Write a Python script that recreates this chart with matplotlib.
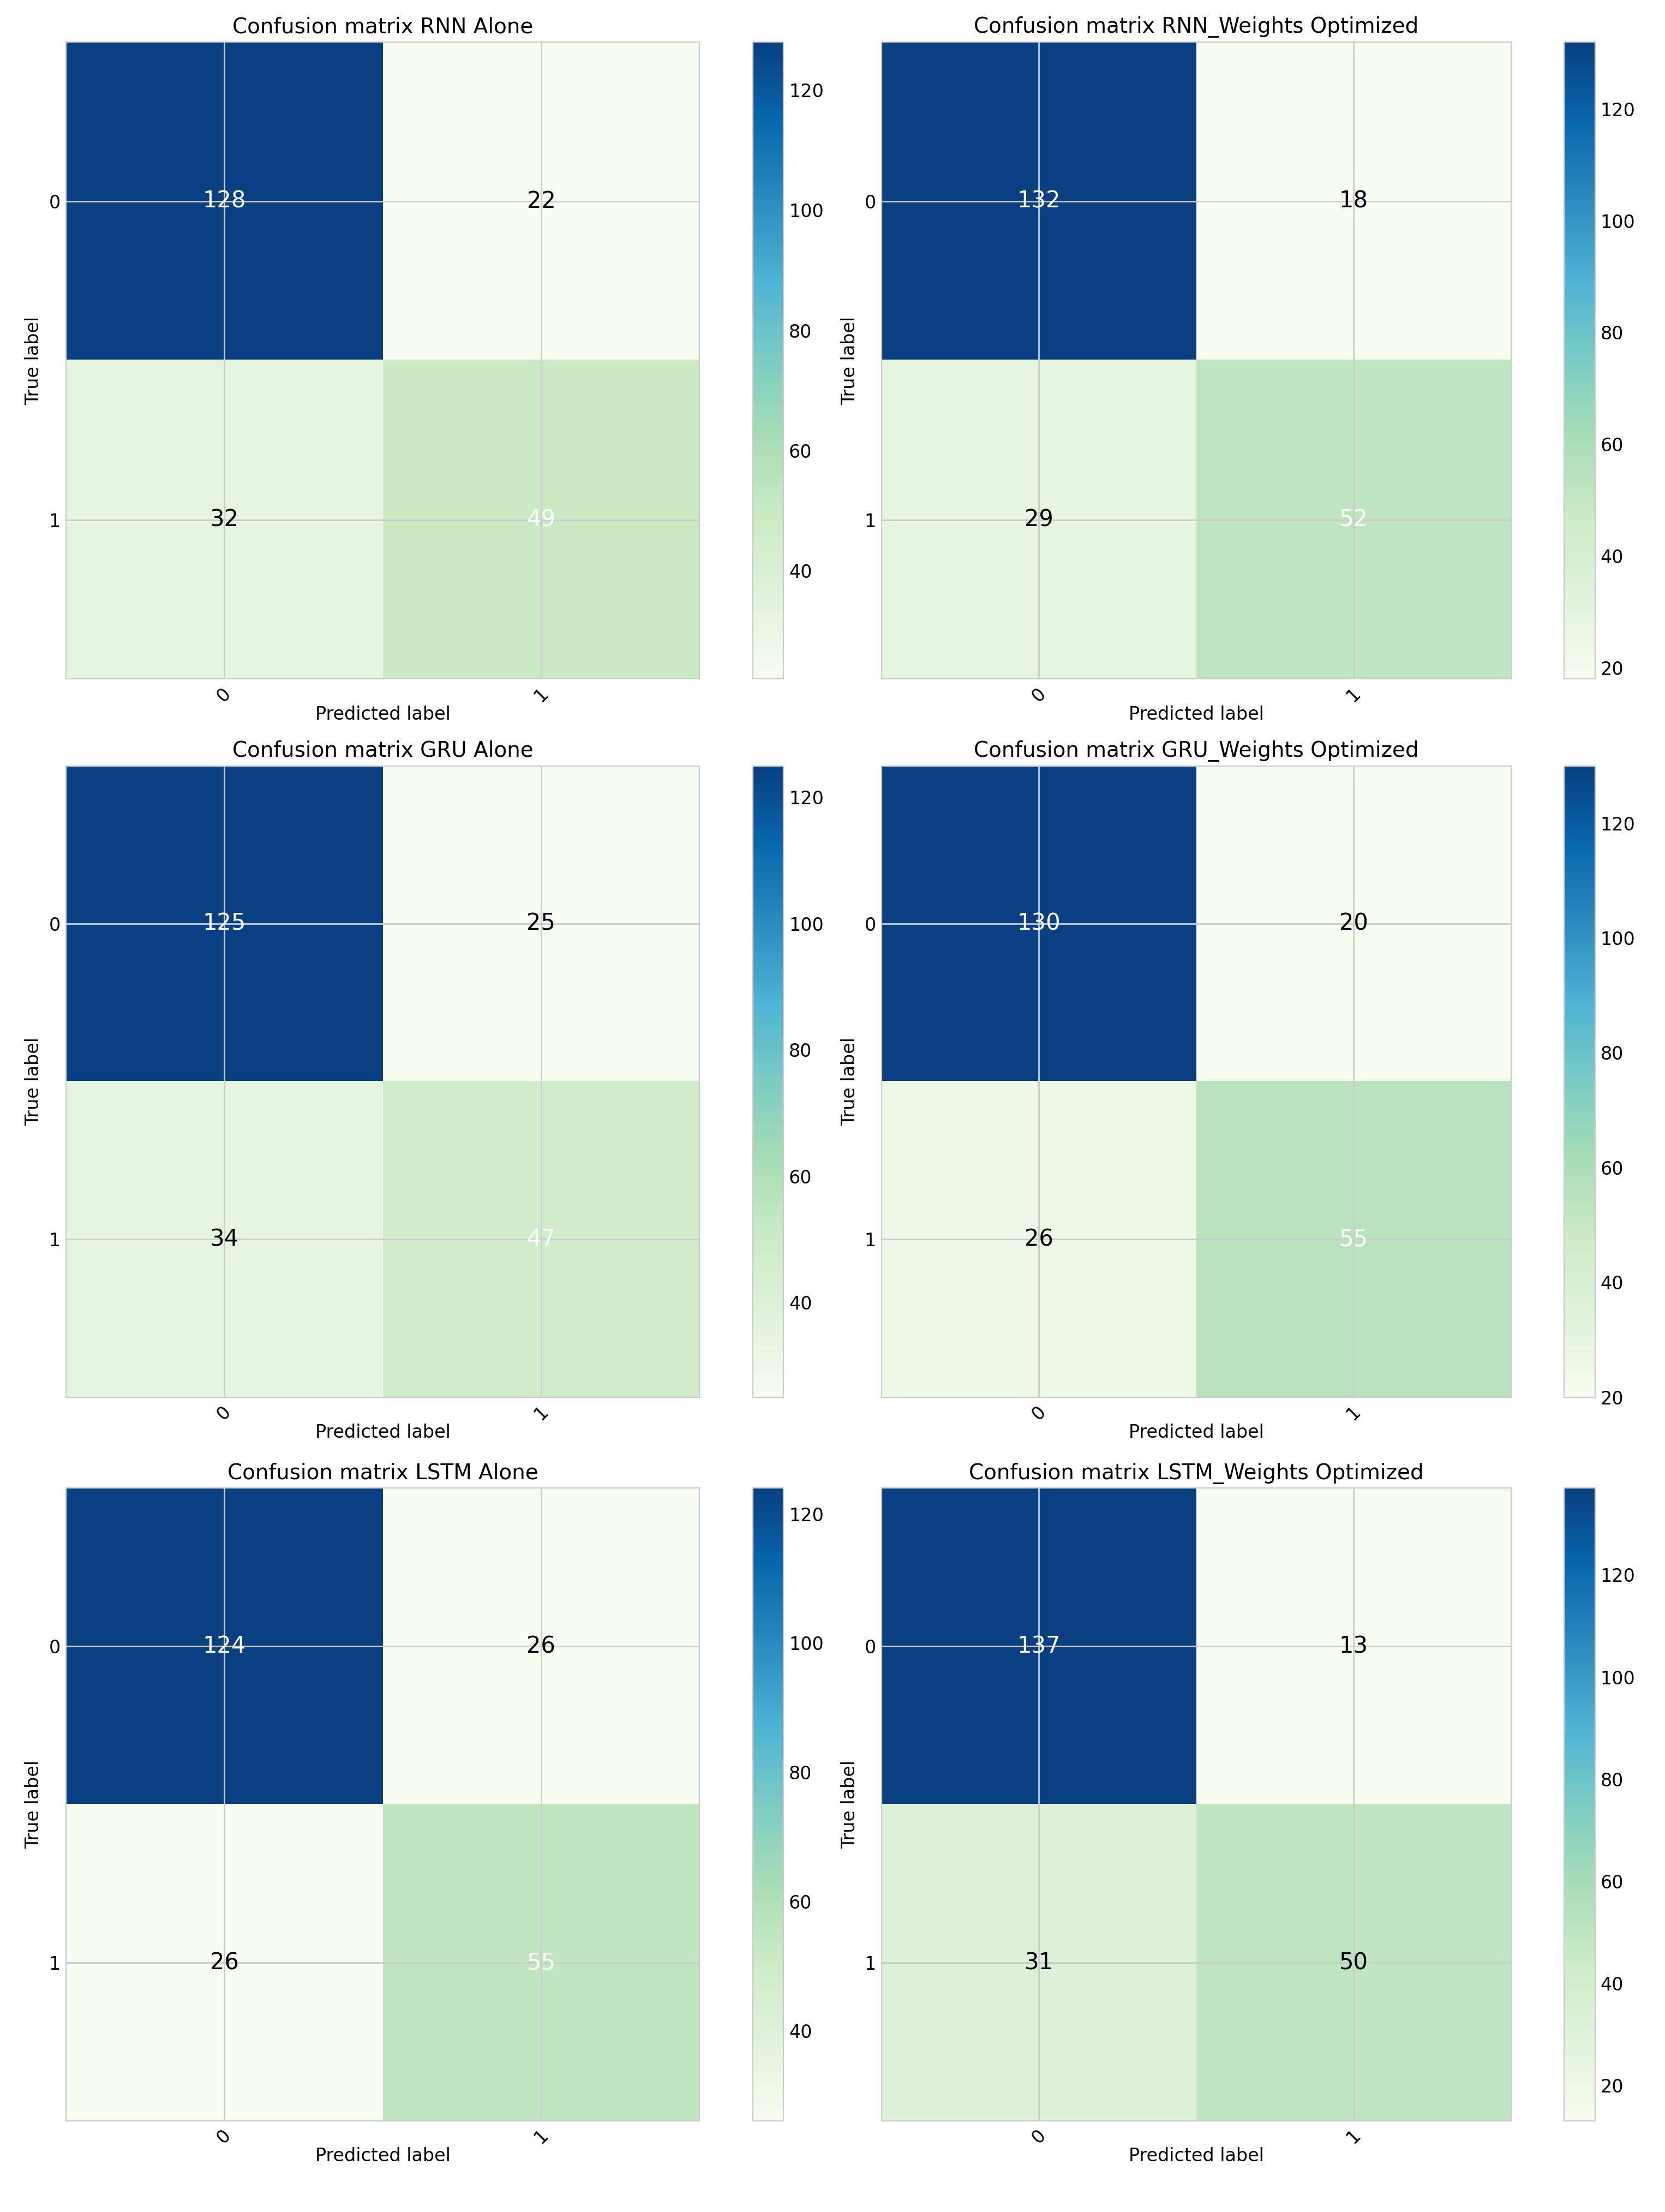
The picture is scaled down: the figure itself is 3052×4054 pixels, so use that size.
import matplotlib.pyplot as plt
import numpy as np

titles = ['Confusion matrix RNN Alone', 'Confusion matrix RNN_Weights Optimized',
          'Confusion matrix GRU Alone', 'Confusion matrix GRU_Weights Optimized',
          'Confusion matrix LSTM Alone', 'Confusion matrix LSTM_Weights Optimized']
matrices = [
    [[128, 22], [32, 49]],
    [[132, 18], [29, 52]],
    [[125, 25], [34, 47]],
    [[130, 20], [26, 55]],
    [[124, 26], [26, 55]],
    [[137, 13], [31, 50]],
]
classes = ['0', '1']
# text colour per cell as in the original figure
text_colors = [
    [['white', 'black'], ['black', 'white']],
    [['white', 'black'], ['black', 'white']],
    [['white', 'black'], ['black', 'white']],
    [['white', 'black'], ['black', 'white']],
    [['white', 'black'], ['black', 'white']],
    [['white', 'black'], ['black', 'black']],
]

W, H = 1190, 1580
fig = plt.figure(figsize=(15.26, 20.27), dpi=200)

rows = [(30, 485), (547, 998), (1063, 1515)]
cols = [(47, 500, 538), (630, 1080, 1118)]

for k, (title, cm) in enumerate(zip(titles, matrices)):
    r, c = divmod(k, 2)
    y0, y1 = rows[r]
    x0, x1, cx = cols[c]
    ax = fig.add_axes([x0 / W, 1 - y1 / H, (x1 - x0) / W, (y1 - y0) / H])
    cax = fig.add_axes([cx / W, 1 - y1 / H, 22 / W, (y1 - y0) / H])
    cm = np.array(cm)
    im = ax.imshow(cm, cmap='GnBu', interpolation='nearest', aspect='auto')
    cb = fig.colorbar(im, cax=cax)
    cb.outline.set_edgecolor('#cccccc')
    cb.ax.tick_params(labelsize=12, length=0)
    ax.set_title(title, fontsize=14)
    ax.set_xticks(range(2))
    ax.set_xticklabels(classes, rotation=45, fontsize=12)
    ax.set_yticks(range(2))
    ax.set_yticklabels(classes, fontsize=12)
    ax.tick_params(length=0)
    ax.grid(True, color='#cccccc', linewidth=1)
    for s in ax.spines.values():
        s.set_edgecolor('#cccccc')
    for i in range(2):
        for j in range(2):
            ax.text(j, i, str(cm[i, j]), ha='center', va='center',
                    fontsize=15, color=text_colors[k][i][j])
    ax.set_ylabel('True label', fontsize=12)
    ax.set_xlabel('Predicted label', fontsize=12, labelpad=0)

fig.savefig('out.png', dpi=200)
